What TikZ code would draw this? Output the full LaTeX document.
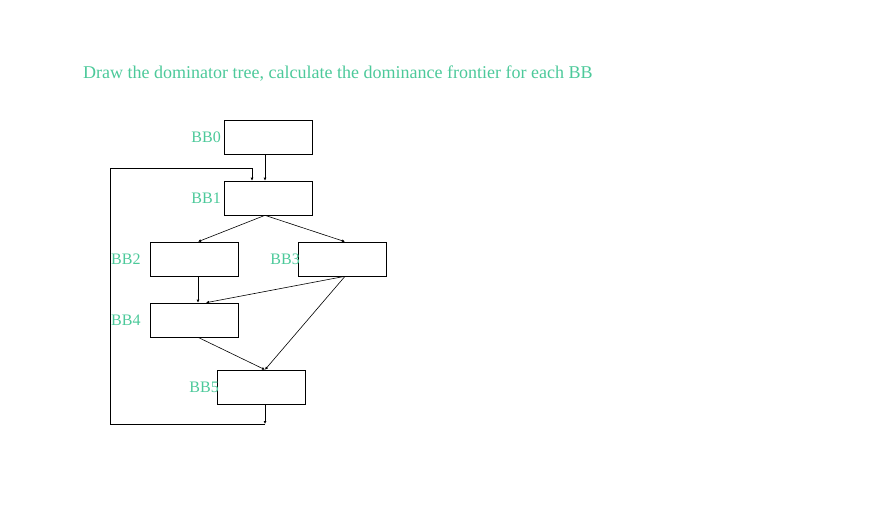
\documentclass[tikz,border=0pt]{standalone}
\usepackage{fontspec}
\usetikzlibrary{arrows.meta}
\setmainfont{Liberation Serif}
\definecolor{lab}{RGB}{76,201,154}
\begin{document}
\begin{tikzpicture}[x=1pt,y=-1pt,
  bb/.style={draw,minimum width=88pt,minimum height=34pt,inner sep=0pt,line width=0.6pt},
  lbl/.style={text=lab,font=\fontsize{16}{16}\selectfont,inner sep=0pt},
  arr/.style={-{Latex[length=3pt,width=3pt]},line width=0.6pt}]
\useasboundingbox (0,0) rectangle (886,520);
\node[lbl,anchor=west] (title) at (83,74) {\fontsize{18}{18}\selectfont Draw the dominator tree, calculate the dominance frontier for each BB};
\node[bb] (b0) at (268,137) {};
\node[bb] (b1) at (268,198) {};
\node[bb] (b2) at (194,259) {};
\node[bb] (b3) at (342.5,259) {};
\node[bb] (b4) at (194,320) {};
\node[bb] (b5) at (261,387) {};
\node[lbl,anchor=east] (l0) at (221,137) {BB0};
\node[lbl,anchor=east] (l1) at (221,198) {BB1};
\node[lbl,anchor=west] (l2) at (111,259) {BB2};
\node[lbl,anchor=east] (l3) at (300,259) {BB3};
\node[lbl,anchor=west] (l4) at (111,320) {BB4};
\node[lbl,anchor=east] (l5) at (219,387) {BB5};
\coordinate (c1) at (265,424);
\draw[arr] ([xshift=-3pt]b0.south) -- ([xshift=-3pt]b1.north);
\draw[arr] ([xshift=-3pt]b1.south) -- ([xshift=4pt]b2.north);
\draw[arr] ([xshift=-3pt]b1.south) -- ([xshift=2.5pt]b3.north);
\draw[arr] ([xshift=4pt]b2.south) -- ([xshift=4pt]b4.north);
\draw[arr] ([xshift=2.5pt]b3.south) -- ([xshift=12pt]b4.north);
\draw[arr] ([xshift=2.5pt]b3.south) -- ([xshift=4pt]b5.north);
\draw[arr] ([xshift=4pt]b4.south) -- ([xshift=4pt]b5.north);
\draw[arr] ([xshift=4pt]b5.south) -- (c1);
\draw[arr] (c1) -- (110,424) -- (110,168) -- (252,168) -- ([xshift=-16pt]b1.north);
\end{tikzpicture}
\end{document}
